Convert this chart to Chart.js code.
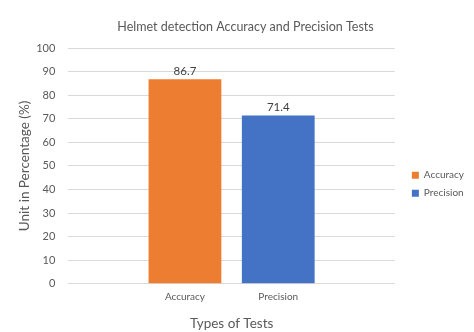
<!DOCTYPE html>
<html>
<head>
<meta charset="utf-8">
<script src="https://cdn.jsdelivr.net/npm/chart.js@4"></script>
<style>
html,body{margin:0;padding:0;background:#fff;}
#wrap{width:474px;height:332px;}
</style>
</head>
<body>
<div id="wrap"><canvas id="c"></canvas></div>
<script>
const categories = ['Accuracy', 'Precision'];
const values = [86.7, 71.4];
const colors = ['#ED7D31', '#4472C4'];
const yTicks = [0, 10, 20, 30, 40, 50, 60, 70, 80, 90, 100];
const chartTitle = 'Helmet detection Accuracy and Precision Tests';
const xTitle = 'Types of Tests';
const yTitle = 'Unit in Percentage (%)';

const FONT = 'Lato, "Open Sans", sans-serif';

const datasets = categories.map((c, i) => ({
  label: c,
  data: [{x: i, y: values[i]}],
  backgroundColor: colors[i],
  borderWidth: 0,
  grouped: false,
  barPercentage: 0.78,
  categoryPercentage: 1.0
}));

const valueLabels = {
  id: 'valueLabels',
  afterDatasetsDraw(chart) {
    const ctx = chart.ctx;
    ctx.save();
    ctx.font = '11.5px ' + FONT;
    ctx.fillStyle = '#404040';
    ctx.textAlign = 'center';
    ctx.textBaseline = 'bottom';
    chart.data.datasets.forEach((ds, di) => {
      const meta = chart.getDatasetMeta(di);
      meta.data.forEach((el, j) => {
        ctx.fillText(String(ds.data[j].y), el.x, el.y - 2);
      });
    });
    ctx.restore();
  }
};

new Chart(document.getElementById('c'), {
  type: 'bar',
  data: { datasets },
  plugins: [valueLabels],
  options: {
    responsive: true,
    maintainAspectRatio: false,
    animation: false,
    layout: { padding: { left: 17, right: 0, top: 0, bottom: 0 } },
    plugins: {
      title: {
        display: true,
        text: chartTitle,
        color: '#595959',
        font: { family: FONT, size: 12.5, weight: 'normal' },
        padding: { top: 19, bottom: 14 }
      },
      legend: {
        position: 'right',
        title: {
          display: true,
          text: '',
          font: { family: FONT, size: 12 },
          padding: { top: 22, bottom: 0 }
        },
        labels: {
          color: '#595959',
          font: { family: FONT, size: 10 },
          boxWidth: 7,
          boxHeight: 7,
          padding: 8
        }
      },
      tooltip: { enabled: false }
    },
    scales: {
      x: {
        type: 'linear',
        offset: false,
        min: -1.25,
        max: 2.25,
        grid: { display: false, drawTicks: false },
        border: { display: false },
        afterBuildTicks(scale) {
          scale.ticks = categories.map((c, i) => ({ value: i }));
        },
        ticks: {
          color: '#595959',
          font: { family: FONT, size: 10 },
          padding: 7,
          maxRotation: 0,
          callback: (v) => categories[v]
        },
        title: {
          display: true,
          text: xTitle,
          color: '#595959',
          font: { family: FONT, size: 13.5 },
          padding: { top: 6, bottom: 0 }
        }
      },
      y: {
        min: 0,
        max: 100,
        afterBuildTicks(scale) {
          scale.ticks = yTicks.map(v => ({ value: v }));
        },
        grid: { color: '#D9D9D9', drawTicks: false, lineWidth: 1 },
        border: { display: false },
        ticks: {
          color: '#595959',
          font: { family: FONT, size: 11 },
          padding: 13
        },
        title: {
          display: true,
          text: yTitle,
          color: '#595959',
          font: { family: FONT, size: 13.5 },
          padding: { top: 0, bottom: -10 }
        }
      },
      spacer: {
        type: 'linear',
        position: 'right',
        display: true,
        min: 0,
        max: 1,
        grid: { display: false, drawTicks: false },
        border: { display: false },
        ticks: { display: false },
        afterFit(scale) { scale.width = 9; }
      }
    }
  }
});
</script>
</body>
</html>
